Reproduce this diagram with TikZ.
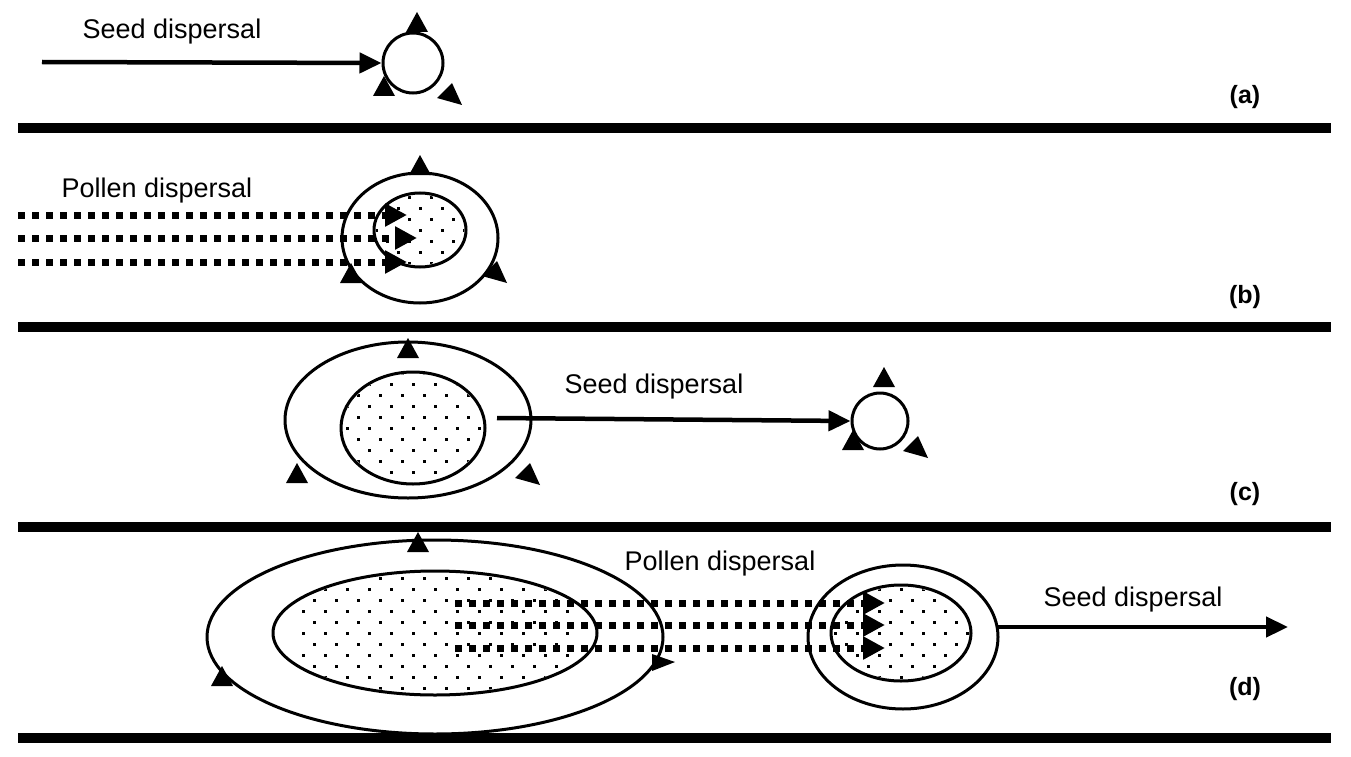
\documentclass[tikz,border=0pt]{standalone}
\usepackage{fontspec}
\setmainfont{Liberation Sans}
\usetikzlibrary{arrows.meta}
\begin{document}
\begin{tikzpicture}[x=1pt,y=-1pt,
  lbl/.style={font=\fontsize{27}{30}\selectfont},
  plbl/.style={font=\bfseries\fontsize{25}{28}\selectfont},
  sep/.style={line width=10},
  arr/.style={line width=4.5,-{Triangle[length=22,width=20]}},
  pol/.style={line width=7,dash pattern=on 7 off 7,-{Triangle[length=22,width=22]}},
  ring/.style={line width=3,fill=white},
  tri/.style={fill=black}]
\useasboundingbox (0,0) rectangle (1351,757);
\newcommand{\mydots}[4]{%
  \begin{scope}\clip (#1,#2) ellipse [x radius=#3,y radius=#4];
  \foreach \i in {-12,...,12}{\foreach \j in {-5,...,5}{
    \fill ({#1+\i*11-1.5},{#2+\j*22+mod(abs(\i),2)*11-1.5}) rectangle ++(3,3);}}
  \end{scope}}
\newcommand{\uptri}[2]{\fill (#1,#2) -- ++(-11,20) -- ++(22,0) -- cycle;}
\newcommand{\drtri}[2]{\fill (#1,#2) -- ++(-25,-7) -- ++(15,-15) -- cycle;}
% separators
\foreach \y [count=\k] in {128,327,527,738}{\draw[sep] (18,\y) -- (1331,\y) coordinate (s\k);}
\node[plbl] (la) at (1245,97) {(a)};
\node[plbl] (lb) at (1245,297) {(b)};
\node[plbl] (lc) at (1245,494) {(c)};
\node[plbl] (ld) at (1245,689) {(d)};
% (a)
\node[lbl] (ta) at (172,32) {Seed dispersal};
\coordinate (a0) at (42,62);
\node[circle,draw,line width=3,minimum size=60,inner sep=0] (ca) at (413,63) {};
\draw[arr] (a0) -- (ca.west);
\uptri{417}{12}\uptri{384}{76}\drtri{462}{105}
% (b)
\node[lbl] (tb) at (157,191) {Pollen dispersal};
\draw[ring] (420,238) ellipse [x radius=78,y radius=65];
\draw[line width=3] (420,230) ellipse [x radius=46,y radius=37];
\mydots{420}{230}{44}{35}
\coordinate (b1) at (18,215);\coordinate (b1e) at (407,215);
\coordinate (b2) at (18,238);\coordinate (b2e) at (417,238);
\coordinate (b3) at (18,262);\coordinate (b3e) at (407,262);
\draw[pol] (b1) -- (b1e); \draw[pol] (b2) -- (b2e); \draw[pol] (b3) -- (b3e);
\uptri{420}{155}\uptri{351}{263}\drtri{507}{283}
% (c)
\draw[ring] (408,420) ellipse [x radius=123,y radius=78];
\draw[line width=3] (413,428) ellipse [x radius=72,y radius=56];
\mydots{413}{428}{70}{54}
\node[lbl] (tc) at (654,387) {Seed dispersal};
\coordinate (c0) at (497,418);
\node[circle,draw,line width=3,minimum size=56,inner sep=0] (cc) at (880,421) {};
\draw[arr] (c0) -- (cc.west);
\uptri{408}{338}\uptri{297}{463}\drtri{540}{485}
\uptri{884}{367}\uptri{853}{430}\drtri{928}{458}
% (d)
\draw[ring] (435,637) ellipse [x radius=228,y radius=97];
\draw[line width=3] (435,633) ellipse [x radius=162,y radius=62];
\mydots{435}{633}{160}{60}
\draw[ring] (903,637) ellipse [x radius=95,y radius=72];
\draw[line width=3] (901,633) ellipse [x radius=70,y radius=48];
\mydots{901}{633}{68}{46}
\node[lbl] (td) at (720,564) {Pollen dispersal};
\coordinate (d1) at (455,603);\coordinate (d1e) at (885,603);
\coordinate (d2) at (455,625);\coordinate (d2e) at (885,625);
\coordinate (d3) at (455,648);\coordinate (d3e) at (885,648);
\draw[pol] (d1) -- (d1e); \draw[pol] (d2) -- (d2e); \draw[pol] (d3) -- (d3e);
\node[lbl] (te) at (1133,600) {Seed dispersal};
\coordinate (e0) at (998,627);\coordinate (e1) at (1288,627);
\draw[arr] (e0) -- (e1);
\uptri{418}{532}\uptri{222}{666}
\fill (675,662) -- ++(-23,-8) -- ++(0,17) -- cycle;
\end{tikzpicture}
\end{document}
